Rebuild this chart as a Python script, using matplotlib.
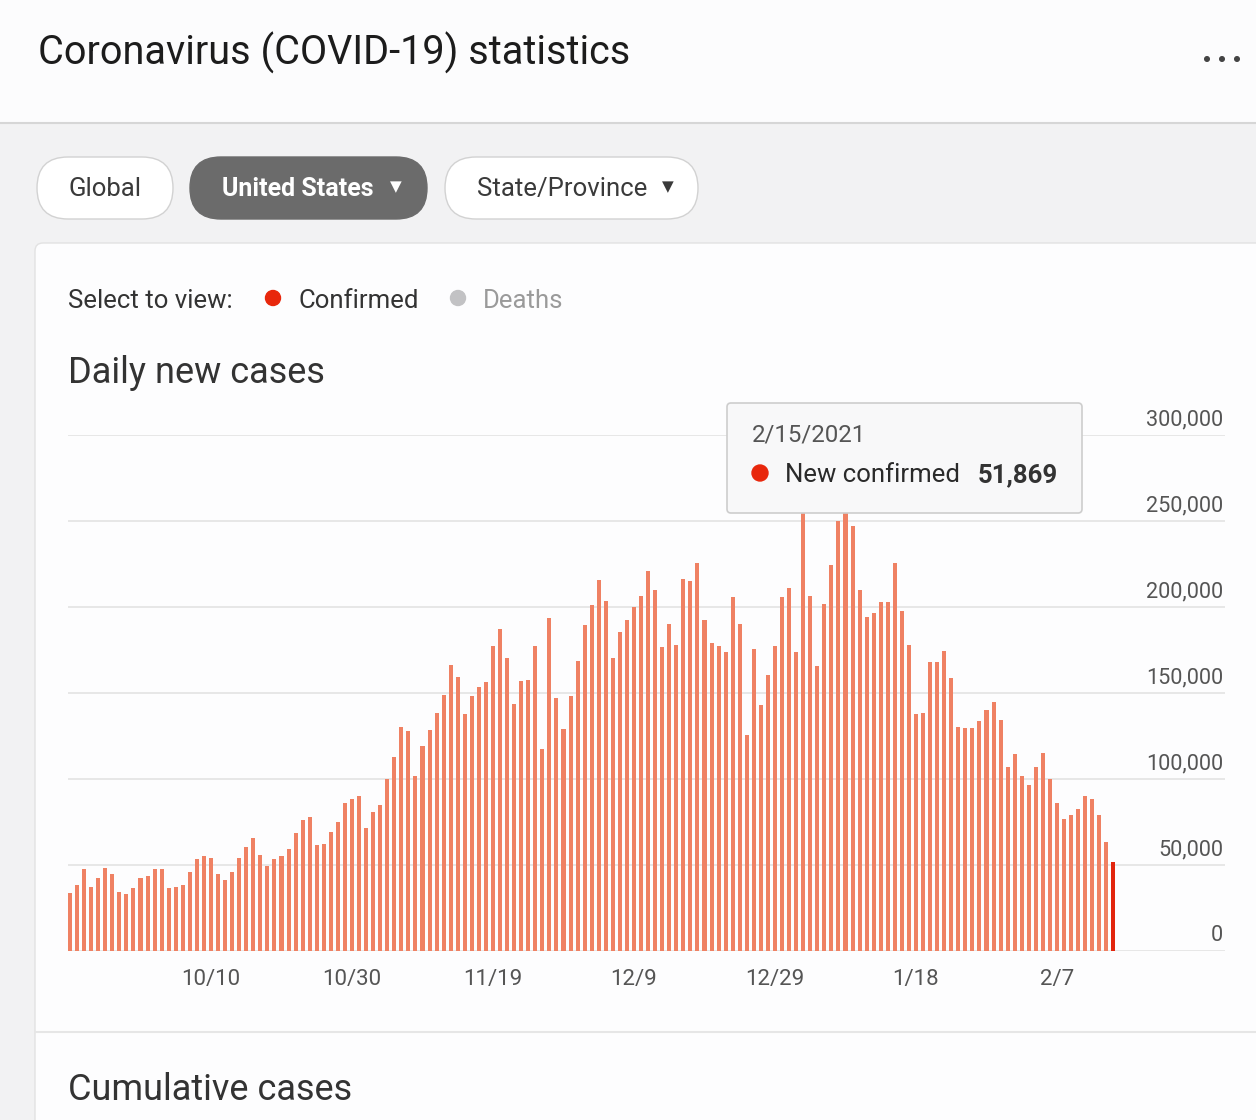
import numpy as np
import pandas as pd
import matplotlib
matplotlib.use('Agg')
from matplotlib import pyplot as plt
from matplotlib.patches import FancyBboxPatch, Circle, Rectangle

plt.rcParams['font.family'] = ['Roboto', 'DejaVu Sans']

# daily new confirmed cases, United States, 9/20/2020 .. 2/15/2021
start_date = '2020-09-20'
new_cases = [
    33900, 38600, 47500, 37000, 42400, 48100, 45000, 34300, 33000, 36400,
    42400, 43400, 47700, 47700, 36400, 37200, 38200, 45700, 53300, 55000,
    54100, 44800, 41300, 45900, 53900, 60300, 65700, 56000, 49600, 53700,
    55400, 59300, 68800, 76200, 78100, 61600, 62200, 69200, 75000, 86200,
    88600, 90100, 71300, 81000, 84700, 99800, 113000, 130400, 127900, 101700,
    119000, 128300, 138400, 149000, 166300, 159100, 137600, 148400, 153700, 156200,
    177300, 187000, 170200, 143400, 157000, 157600, 177300, 117600, 193800, 147300,
    129100, 148100, 168600, 189700, 201000, 215500, 203500, 170200, 185500, 192400,
    199800, 206200, 220900, 209900, 176900, 190100, 177700, 216500, 214900, 225800,
    192300, 179300, 177100, 174000, 206000, 190300, 125400, 175600, 143000, 160700,
    177500, 205600, 210900, 173700, 280000, 206600, 165500, 201600, 224400, 250200,
    300000, 247100, 209900, 194000, 196300, 203100, 202700, 225400, 197700, 178100,
    137600, 138600, 167800, 167800, 174600, 158700, 130200, 129500, 129500, 133700,
    140100, 144600, 134100, 106800, 114500, 101600, 96500, 106800, 115300, 99800,
    86000, 76900, 79100, 82400, 89900, 88200, 79200, 63500, 51869,
]
y_ticks = [0, 50000, 100000, 150000, 200000, 250000, 300000]
x_tick_labels = ['10/10', '10/30', '11/19', '12/9', '12/29', '1/18', '2/7']

dates = pd.date_range(start_date, periods=len(new_cases), freq='D')
date_labels = [f'{d.month}/{d.day}' for d in dates]
x = np.arange(len(new_cases))

W, H = 1256, 1120
fig = plt.figure(figsize=(W / 100, H / 100), dpi=100)
fig.patch.set_facecolor('#f2f2f3')

# page background in pixel coordinates
bg = fig.add_axes([0, 0, 1, 1], zorder=0)
bg.set_xlim(0, W)
bg.set_ylim(H, 0)
bg.axis('off')

bg.add_patch(Rectangle((0, 0), W, 122, facecolor='#fcfcfd', edgecolor='none'))
bg.plot([0, W], [122.5, 122.5], color='#d6d6d6', lw=1.5)
bg.text(38, 53, 'Coronavirus (COVID-19) statistics', fontsize=28.5, color='#1c1c1c',
        va='center', ha='left')
for dx in [1207, 1222, 1237]:
    bg.add_patch(Circle((dx, 59), 2.3, color='#444444'))

# pill buttons
pills = [(37, 136, 'Global', '#ffffff', '#3a3a3a', 'normal', 18.5),
         (190, 237, 'United States', '#6b6b6b', '#ffffff', 'bold', 18),
         (445, 253, 'State/Province', '#ffffff', '#3a3a3a', 'normal', 18.5)]
for px, pw, label, fc, tc, fw, fs in pills:
    bg.add_patch(FancyBboxPatch((px, 157), pw, 62, boxstyle='round,pad=0,rounding_size=31',
                                facecolor=fc, edgecolor='#d2d2d2' if fc == '#ffffff' else fc, lw=1))
    bg.text(px + 32, 189, label, fontsize=fs, color=tc, fontweight=fw, va='center', ha='left')
bg.text(396, 187, '\u25bc', fontsize=11, color='#ffffff', va='center', ha='center',
        family=['DejaVu Sans'])
bg.text(668, 187, '\u25bc', fontsize=11, color='#3a3a3a', va='center', ha='center',
        family=['DejaVu Sans'])

# card
bg.add_patch(FancyBboxPatch((35, 243), 1260, 900, boxstyle='round,pad=0,rounding_size=8',
                            facecolor='#fdfdfe', edgecolor='#e2e2e2', lw=1))
bg.text(68, 301, 'Select to view:', fontsize=18.5, color='#333333', va='center', ha='left')
bg.add_patch(Circle((273, 298), 7.5, color='#e8270c'))
bg.text(299, 301, 'Confirmed', fontsize=18.5, color='#333333', va='center', ha='left')
bg.add_patch(Circle((458, 298), 7.5, color='#c2c2c4'))
bg.text(483, 301, 'Deaths', fontsize=18.5, color='#9a9a9a', va='center', ha='left')
bg.text(68, 373, 'Daily new cases', fontsize=26, color='#333333', va='center', ha='left')
bg.plot([36, W], [1032, 1032], color='#e6e6e6', lw=1.5)
bg.text(68, 1090, 'Cumulative cases', fontsize=26, color='#333333', va='center', ha='left')

# bar chart
ax_left, ax_right, ax_top, ax_bottom = 68, 1225, 435, 951
ax = fig.add_axes([ax_left / W, 1 - ax_bottom / H, (ax_right - ax_left) / W,
                   (ax_bottom - ax_top) / H], zorder=1)
ax.patch.set_alpha(0)
colors = ['#ef8163'] * (len(new_cases) - 1) + ['#e2250d']
ax.bar(x, new_cases, width=0.58, color=colors, zorder=2)
step = 7.05
ax.set_xlim(-2 / step, (ax_right - 70) / step)
ax.set_ylim(0, 300000)
ax.set_yticks(y_ticks)
ax.yaxis.grid(True, color='#e3e3e3', lw=1.2, zorder=0)
ax.tick_params(axis='y', left=False, labelleft=False)
for v in y_ticks:
    ax.annotate(f'{v:,}', xy=(1, v), xycoords=('axes fraction', 'data'),
                xytext=(-2, 5), textcoords='offset pixels', ha='right', va='bottom',
                fontsize=15.6, color='#555555')
tick_pos = [date_labels.index(t) for t in x_tick_labels]
ax.set_xticks(tick_pos)
ax.set_xticklabels(x_tick_labels, fontsize=16, color='#555555')
ax.tick_params(axis='x', length=0, pad=13)
for s in ax.spines.values():
    s.set_visible(False)

# tooltip on top
top = fig.add_axes([0, 0, 1, 1], zorder=5)
top.set_xlim(0, W)
top.set_ylim(H, 0)
top.axis('off')
top.patch.set_alpha(0)
last = dates[-1]
top.add_patch(FancyBboxPatch((727, 403), 355, 110, boxstyle='round,pad=0,rounding_size=4',
                             facecolor='#f8f8f9', edgecolor='#cdcdcd', lw=1.2))
top.text(752, 435, f'{last.month}/{last.day}/{last.year}', fontsize=17.3, color='#555555',
         va='center', ha='left')
top.add_patch(Circle((760, 473), 8, color='#e8270c'))
top.text(785, 475, 'New confirmed', fontsize=18.5, color='#2a2a2a', va='center', ha='left')
top.text(978, 475, f'{new_cases[-1]:,}', fontsize=18.5, color='#333333', fontweight='bold',
         va='center', ha='left')

plt.savefig('out.png', dpi=100, facecolor=fig.get_facecolor())
